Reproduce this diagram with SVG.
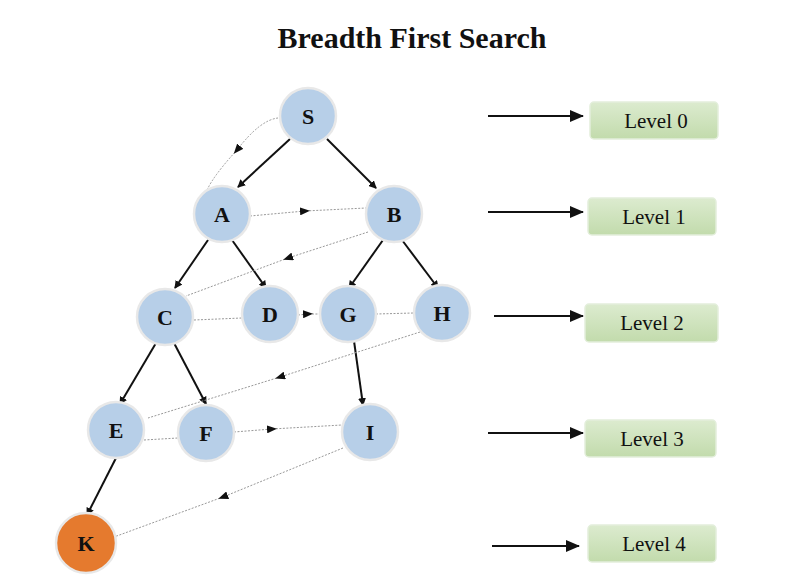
<svg xmlns="http://www.w3.org/2000/svg" width="799" height="586" viewBox="0 0 799 586">
<defs>
<marker id="ah" markerWidth="8" markerHeight="8" refX="7" refY="4" orient="auto" markerUnits="userSpaceOnUse"><path d="M0,0 L8,4 L0,8 z" fill="#111"/></marker>
<marker id="big" markerWidth="14" markerHeight="12" refX="13" refY="6" orient="auto" markerUnits="userSpaceOnUse"><path d="M0,0 L14,6 L0,12 z" fill="#111"/></marker>
<marker id="mid" markerWidth="10" markerHeight="8" refX="5" refY="4" orient="auto" markerUnits="userSpaceOnUse"><path d="M0,0 L10,4 L0,8 z" fill="#111"/></marker>
<linearGradient id="gg" x1="0" y1="0" x2="0" y2="1"><stop offset="0" stop-color="#dcebcf"/><stop offset="1" stop-color="#c2dbac"/></linearGradient>
</defs>
<style>
.n{fill:#b7cfe8;stroke:#e8e8e8;stroke-width:2.5}
.k{fill:#e57a2e;stroke:#e8e8e8;stroke-width:2.5}
.t{font-family:"Liberation Serif",serif;font-weight:bold;font-size:22px;text-anchor:middle;fill:#111}
.e{stroke:#111;stroke-width:2;fill:none;marker-end:url(#ah)}
.d{stroke:#999;stroke-width:1;stroke-dasharray:2,1.5;fill:none}
.da{stroke:#999;stroke-width:1;stroke-dasharray:2,1.5;fill:none;marker-mid:url(#mid)}
.la{stroke:#111;stroke-width:2;fill:none;marker-end:url(#big)}
.b{fill:url(#gg);stroke:#e3eedb;stroke-width:1.5}
.lt{font-family:"Liberation Serif",serif;font-size:21px;text-anchor:middle;fill:#111}
</style>
<rect width="799" height="586" fill="#fff"/>
<text x="412" y="48" font-family="Liberation Serif, serif" font-weight="bold" font-size="30" text-anchor="middle" fill="#111">Breadth First Search</text>
<g id="connectors">
<line class="e" x1="290" y1="139" x2="238" y2="187"/>
<line class="e" x1="327" y1="139" x2="376" y2="188"/>
<line class="e" x1="208" y1="240" x2="175" y2="288"/>
<line class="e" x1="232" y1="240" x2="266" y2="288"/>
<line class="e" x1="383" y1="240" x2="349" y2="288"/>
<line class="e" x1="402" y1="240" x2="438" y2="288"/>
<line class="e" x1="156" y1="343" x2="120" y2="404"/>
<line class="e" x1="174" y1="343" x2="206" y2="404"/>
<line class="e" x1="354" y1="341" x2="363" y2="405"/>
<line class="e" x1="116" y1="458" x2="87" y2="515"/>
<path class="da" d="M278,118 Q260,120 237,150 Q214,175 207,190"/>
<path class="da" d="M250,216 L305,211 L366,208"/>
<path class="da" d="M368,232 L288,258 L186,296"/>
<path class="d" d="M194,320 L242,318"/>
<path class="da" d="M298,315 L308,314 L320,314"/>
<path class="d" d="M376,314 L414,313"/>
<path class="da" d="M420,332 L280,377 L148,418"/>
<path class="d" d="M144,440 L178,438"/>
<path class="da" d="M234,432 L272,429 L342,425"/>
<path class="da" d="M343,448 L223,497 L114,537"/>
</g>
<g id="S"><circle class="n" cx="308" cy="116" r="28"/><text class="t" x="308" y="124">S</text></g>
<g id="A"><circle class="n" cx="222" cy="214" r="28"/><text class="t" x="222" y="222">A</text></g>
<g id="B"><circle class="n" cx="394" cy="214" r="28"/><text class="t" x="394" y="222">B</text></g>
<g id="C"><circle class="n" cx="165" cy="317" r="28"/><text class="t" x="165" y="325">C</text></g>
<g id="D"><circle class="n" cx="270" cy="314" r="28"/><text class="t" x="270" y="322">D</text></g>
<g id="G"><circle class="n" cx="348" cy="314" r="28"/><text class="t" x="348" y="322">G</text></g>
<g id="H"><circle class="n" cx="442" cy="313" r="28"/><text class="t" x="442" y="321">H</text></g>
<g id="E"><circle class="n" cx="116" cy="430" r="28"/><text class="t" x="116" y="438">E</text></g>
<g id="F"><circle class="n" cx="206" cy="433" r="28"/><text class="t" x="206" y="441">F</text></g>
<g id="I"><circle class="n" cx="370" cy="432" r="28"/><text class="t" x="370" y="440">I</text></g>
<g id="K"><circle class="k" cx="86" cy="543" r="30"/><text class="t" x="86" y="551">K</text></g>
<g id="levels">
<line class="la" x1="488" y1="116" x2="583" y2="116"/>
<line class="la" x1="488" y1="212" x2="583" y2="212"/>
<line class="la" x1="494" y1="316" x2="583" y2="316"/>
<line class="la" x1="488" y1="433" x2="583" y2="433"/>
<line class="la" x1="492" y1="546" x2="579" y2="546"/>
</g>
<g id="L0"><rect class="b" x="590" y="102" width="128" height="37" rx="4"/><text class="lt" x="656" y="128">Level 0</text></g>
<g id="L1"><rect class="b" x="588" y="198" width="128" height="37" rx="4"/><text class="lt" x="654" y="224">Level 1</text></g>
<g id="L2"><rect class="b" x="585" y="304" width="133" height="38" rx="4"/><text class="lt" x="652" y="330">Level 2</text></g>
<g id="L3"><rect class="b" x="585" y="420" width="131" height="37" rx="4"/><text class="lt" x="652" y="446">Level 3</text></g>
<g id="L4"><rect class="b" x="588" y="525" width="128" height="37" rx="4"/><text class="lt" x="654" y="551">Level 4</text></g>
</svg>
